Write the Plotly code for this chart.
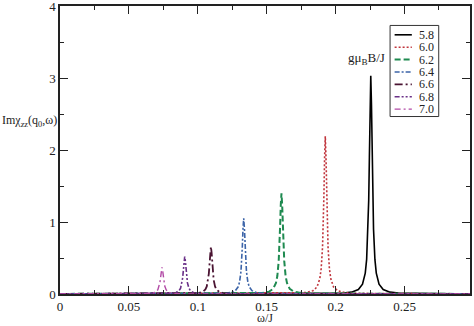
import plotly.graph_objects as go

# Imaginary part of the longitudinal susceptibility at q0 for several fields gμB B/J
fields = ["5.8", "6.0", "6.2", "6.4", "6.6", "6.8", "7.0"]
peak_pos = [0.2255, 0.1925, 0.1607, 0.1333, 0.1095, 0.0905, 0.0740]

# offsets (ω/J) from each peak centre, and the curve height at those offsets
offsets = [0.0, 0.0005, 0.001, 0.0015, 0.002, 0.003, 0.004, 0.006, 0.009, 0.014, 0.020]
prof_58 = [3.03, 2.64, 1.90, 1.30, 0.90, 0.48, 0.29, 0.136, 0.062, 0.026, 0.013]
prof_60 = [2.19, 1.91, 1.37, 0.94, 0.65, 0.35, 0.21, 0.098, 0.045, 0.019, 0.009]
prof_62 = [1.40, 1.24, 0.93, 0.65, 0.46, 0.25, 0.153, 0.072, 0.033, 0.014, 0.007]
prof_64 = [1.05, 0.915, 0.66, 0.45, 0.31, 0.166, 0.10, 0.047, 0.021, 0.009, 0.0044]
prof_66 = [0.66, 0.575, 0.414, 0.283, 0.196, 0.105, 0.063, 0.030, 0.0135, 0.0057, 0.003]
prof_68 = [0.52, 0.453, 0.326, 0.223, 0.154, 0.082, 0.050, 0.023, 0.0106, 0.0045, 0.0022]
prof_70 = [0.37, 0.322, 0.232, 0.159, 0.11, 0.059, 0.035, 0.017, 0.0076, 0.0032, 0.0016]
profiles = [prof_58, prof_60, prof_62, prof_64, prof_66, prof_68, prof_70]
tail_value = 0.001  # curve level far from the resonance

colors = ["#000000", "#c0343c", "#1e8a50", "#3c64a8", "#4a1432", "#6a3088", "#b24aa6"]
dashes = ["solid", "2px,2px", "6px,3px", "5px,2px,2px,2px", "8px,3px,2px,3px",
          "5px,2px,2px,2px,2px,2px", "6px,3px,2px,3px"]
widths = [1.6, 1.6, 2.0, 1.6, 1.8, 1.6, 1.4]

x_min, x_max = 0.0, 0.2975

fig = go.Figure()
for name, x0, prof, c, d, w in zip(fields, peak_pos, profiles, colors, dashes, widths):
    xs = [x_min] + [x0 - o for o in reversed(offsets[1:])] + [x0 + o for o in offsets] + [x_max]
    ys = [tail_value] + list(reversed(prof[1:])) + prof + [tail_value]
    fig.add_trace(go.Scatter(x=xs, y=ys, mode="lines", name=name, showlegend=False,
                             line=dict(color=c, dash=d, width=w)))

serif = "Liberation Serif, Times New Roman, serif"
ink = "#222"

# legend box drawn in data coordinates
box_x0, box_x1, box_y0, box_y1 = 0.2395, 0.2748, 2.465, 3.73
fig.add_shape(type="rect", x0=box_x0, x1=box_x1, y0=box_y0, y1=box_y1,
              line=dict(color="#333", width=1), fillcolor="white", layer="above")
row_y0, row_step = 3.60, 0.172
for i, (name, c, d, w) in enumerate(zip(fields, colors, dashes, widths)):
    yy = row_y0 - i * row_step
    fig.add_shape(type="line", x0=0.2428, x1=0.2553, y0=yy, y1=yy,
                  line=dict(color=c, dash=d, width=w), layer="above")
    fig.add_annotation(x=0.2595, y=yy, text=name, showarrow=False, xanchor="left",
                       yanchor="middle", borderpad=0,
                       font=dict(family=serif, size=12, color=ink))

fig.add_annotation(x=0.2375, y=3.27, text="gμ<sub>B</sub>B/J", showarrow=False,
                   xanchor="right", yanchor="middle",
                   font=dict(family=serif, size=13, color=ink))

fig.add_annotation(xref="paper", x=-0.144, y=2.40, text="Imχ<sub>zz</sub>(q<sub>0</sub>,ω)",
                   showarrow=False, xanchor="left", yanchor="middle", borderpad=0,
                   font=dict(family=serif, size=12, color=ink))

# x-axis title placed below the tick labels
fig.add_annotation(xref="paper", yref="paper", x=0.5, y=-0.1125, text="ω/J",
                   showarrow=False, xanchor="center", yanchor="bottom", borderpad=0,
                   font=dict(family=serif, size=12, color=ink))

axis_common = dict(showline=True, linecolor=ink, linewidth=1.5, mirror="allticks",
                   ticks="inside", ticklen=8, tickwidth=1.2, tickcolor=ink,
                   showgrid=False, zeroline=False, ticklabeloverflow="allow",
                   automargin=False,
                   tickfont=dict(family=serif, size=13, color=ink))

fig.update_xaxes(range=[x_min, x_max], tick0=0, dtick=0.05,
                 minor=dict(ticks="inside", ticklen=4, dtick=0.025, tickcolor=ink, showgrid=False),
                 **axis_common)
fig.update_yaxes(range=[0, 4.0001], tick0=0, dtick=1,
                 minor=dict(ticks="inside", ticklen=4, dtick=0.5, tickcolor=ink, showgrid=False),
                 **axis_common)

fig.update_layout(width=474, height=326, margin=dict(l=60, r=4, t=6, b=32),
                  plot_bgcolor="white", paper_bgcolor="white", showlegend=False)

fig.write_html("out.html")
